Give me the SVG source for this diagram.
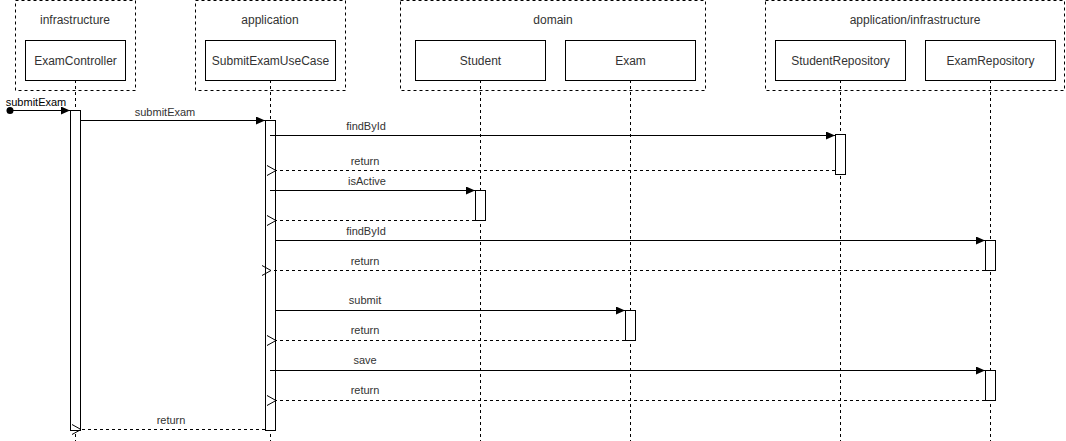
<svg xmlns="http://www.w3.org/2000/svg" width="1066" height="441" viewBox="0 0 1066 441">
<style>
text{font-family:"Liberation Sans",Arial,sans-serif;fill:#333;text-anchor:middle}
.h{font-size:12px}.m{font-size:11px}
.c{fill:none;stroke:#000;stroke-dasharray:3,3}
.b{fill:#fff;stroke:#000}
.ll{stroke:#000;stroke-dasharray:3,3}
.a{fill:#fff;stroke:#000}
.s{stroke:#000;fill:none;marker-end:url(#f)}
.r{stroke:#000;fill:none;stroke-dasharray:3,3;marker-end:url(#o)}
</style>
<defs>
<marker id="f" markerWidth="10" markerHeight="10" refX="9" refY="4" orient="auto" markerUnits="userSpaceOnUse"><path d="M0,0L9,4L0,8z" fill="#000"/></marker>
<marker id="o" markerWidth="12" markerHeight="12" refX="1" refY="5" orient="auto" markerUnits="userSpaceOnUse"><path d="M10,0L1,5L10,10" fill="none" stroke="#000"/></marker>
</defs>
<rect width="1066" height="441" fill="#fff"/>
<g id="infrastructure"><rect class="c" x="15.5" y="0.5" width="120" height="90"/><text class="h" x="75" y="24">infrastructure</text></g>
<g id="application"><rect class="c" x="195.5" y="0.5" width="150" height="90"/><text class="h" x="270" y="24">application</text></g>
<g id="domain"><rect class="c" x="400.5" y="0.5" width="305" height="90"/><text class="h" x="553" y="24">domain</text></g>
<g id="appinfra"><rect class="c" x="765.5" y="0.5" width="299" height="90"/><text class="h" x="915" y="24">application/infrastructure</text></g>
<g id="lifelines">
<line class="ll" x1="75.5" y1="80" x2="75.5" y2="441"/>
<line class="ll" x1="270.5" y1="80" x2="270.5" y2="441"/>
<line class="ll" x1="480.5" y1="80" x2="480.5" y2="441"/>
<line class="ll" x1="630.5" y1="80" x2="630.5" y2="441"/>
<line class="ll" x1="840.5" y1="80" x2="840.5" y2="441"/>
<line class="ll" x1="990.5" y1="80" x2="990.5" y2="441"/>
</g>
<g id="ExamController"><rect class="b" x="25.5" y="40.5" width="100" height="40"/><text class="h" x="75.5" y="65">ExamController</text></g>
<g id="SubmitExamUseCase"><rect class="b" x="205.5" y="40.5" width="130" height="40"/><text class="h" x="270.5" y="65">SubmitExamUseCase</text></g>
<g id="Student"><rect class="b" x="415.5" y="40.5" width="130" height="40"/><text class="h" x="480.5" y="65">Student</text></g>
<g id="Exam"><rect class="b" x="565.5" y="40.5" width="130" height="40"/><text class="h" x="630.5" y="65">Exam</text></g>
<g id="StudentRepository"><rect class="b" x="775.5" y="40.5" width="130" height="40"/><text class="h" x="840.5" y="65">StudentRepository</text></g>
<g id="ExamRepository"><rect class="b" x="925.5" y="40.5" width="130" height="40"/><text class="h" x="990.5" y="65">ExamRepository</text></g>
<g id="activations">
<rect class="a" x="70.5" y="110.5" width="10" height="320"/>
<rect class="a" x="265.5" y="120.5" width="10" height="310"/>
<rect class="a" x="835.5" y="134.5" width="10" height="40"/>
<rect class="a" x="475.5" y="190.5" width="10" height="30"/>
<rect class="a" x="985.5" y="240.5" width="10" height="30"/>
<rect class="a" x="625.5" y="310.5" width="10" height="30"/>
<rect class="a" x="985.5" y="370.5" width="10" height="30"/>
</g>
<g id="connectors">
<circle cx="10" cy="110.5" r="3.5" fill="#000"/>
<line class="s" x1="10" y1="110.5" x2="70" y2="110.5"/><text class="m" x="36" y="106" style="fill:#000">submitExam</text>
<line class="s" x1="80" y1="120.5" x2="265" y2="120.5"/><text class="m" x="165" y="116">submitExam</text>
<line class="s" x1="270" y1="135.5" x2="835" y2="135.5"/><text class="m" x="366" y="130">findById</text>
<line class="r" x1="835" y1="170.5" x2="276" y2="170.5"/><text class="m" x="365" y="165">return</text>
<line class="s" x1="270" y1="190.5" x2="475" y2="190.5"/><text class="m" x="367" y="185">isActive</text>
<line class="r" x1="475" y1="220.5" x2="276" y2="220.5"/>
<line class="s" x1="275" y1="240.5" x2="985" y2="240.5"/><text class="m" x="366" y="235">findById</text>
<line class="r" x1="985" y1="270.5" x2="271" y2="270.5"/><text class="m" x="365" y="265">return</text>
<line class="s" x1="275" y1="310.5" x2="625" y2="310.5"/><text class="m" x="365" y="304">submit</text>
<line class="r" x1="625" y1="340.5" x2="276" y2="340.5"/><text class="m" x="365" y="334">return</text>
<line class="s" x1="270" y1="370.5" x2="985" y2="370.5"/><text class="m" x="365" y="364">save</text>
<line class="r" x1="985" y1="400.5" x2="276" y2="400.5"/><text class="m" x="365" y="394">return</text>
<line class="r" x1="265" y1="429.5" x2="81" y2="429.5"/><text class="m" x="171" y="424">return</text>
</g>
</svg>
